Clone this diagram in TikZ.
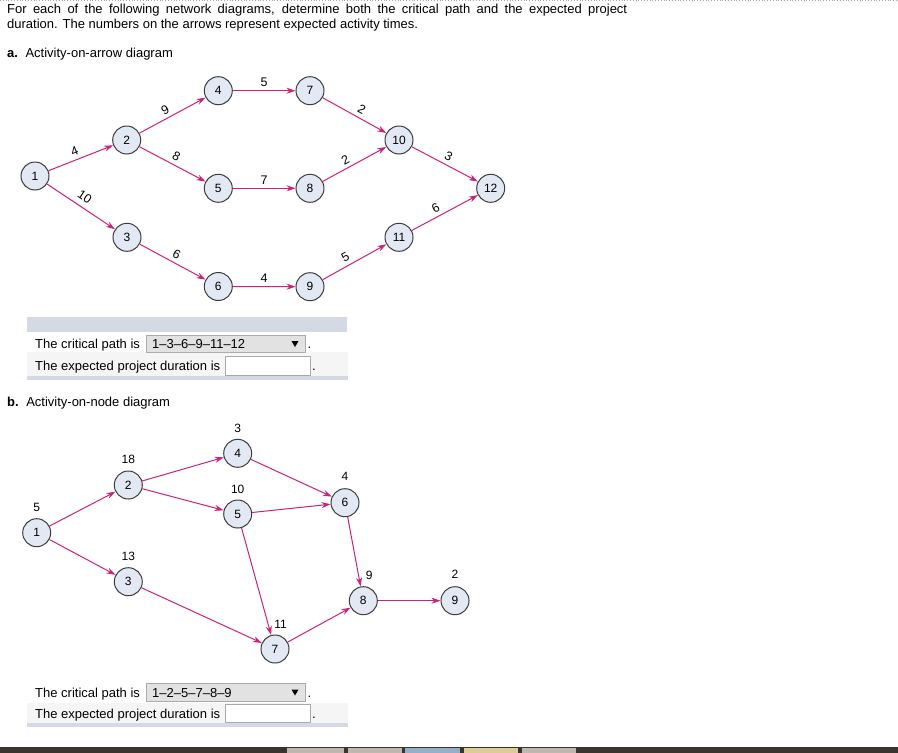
\documentclass[tikz,border=0pt]{standalone}
\usepackage{fontspec}
\setmainfont{Liberation Sans}
\usetikzlibrary{arrows.meta}
\definecolor{edgec}{RGB}{204,34,122}
\definecolor{nodefill}{RGB}{226,232,244}
\definecolor{nodeline}{RGB}{60,60,60}
\definecolor{barc}{RGB}{212,217,227}
\definecolor{rowc}{RGB}{245,245,245}
\definecolor{dropc}{RGB}{226,226,226}
\definecolor{boxline}{RGB}{170,170,170}
\definecolor{taskc}{RGB}{58,52,46}
\definecolor{btnc}{RGB}{190,184,176}
\definecolor{btnb}{RGB}{150,175,200}
\definecolor{btny}{RGB}{220,205,150}
\begin{document}
\begin{tikzpicture}[x=1pt,y=-1pt,
  circ/.style={circle,draw=nodeline,fill=nodefill,line width=1pt,minimum size=28pt,inner sep=0pt,font=\fontsize{12}{13}\selectfont},
  arr/.style={draw=edgec,line width=1pt,-{Stealth[length=9pt,width=6pt]}},
  elab/.style={font=\fontsize{12.5}{13}\selectfont,sloped,above,inner sep=3.5pt},
  nlab/.style={font=\fontsize{12}{13}\selectfont,inner sep=0pt},
  txt/.style={font=\fontsize{13}{15}\selectfont,inner sep=0pt,anchor=base west},
  dropbox/.style={draw=boxline,fill=dropc,line width=0.8pt},
  inbox/.style={draw=boxline,fill=white,line width=0.8pt}]
\useasboundingbox (0,0) rectangle (898,753);
\fill[white] (0,0) rectangle (898,753);
\draw[gray!70,dotted,line width=0.8pt] (0,0.5) -- (898,0.5);
% header text
\node[txt] (h1) at (7,13) {\makebox[620pt][s]{For each of the following network diagrams, determine both the critical path and the expected project}};
\node[txt] (h2) at (7,28) {duration. The numbers on the arrows represent expected activity times.};
\node[txt] (ha) at (7,57) {\textbf{a.}\hspace{7.5pt}Activity-on-arrow diagram};
% diagram a
\node[circ] (a1) at (35,176) {1};
\node[circ] (a2) at (126.7,140) {2};
\node[circ] (a3) at (127,237.3) {3};
\node[circ] (a4) at (218.3,90.7) {4};
\node[circ] (a5) at (218.3,188.3) {5};
\node[circ] (a6) at (218.3,286.5) {6};
\node[circ] (a7) at (310,90.7) {7};
\node[circ] (a8) at (310,188.3) {8};
\node[circ] (a9) at (310,286.7) {9};
\node[circ] (a10) at (399,140) {10};
\node[circ] (a11) at (399,237.3) {11};
\node[circ] (a12) at (490.7,188.3) {12};
\draw[arr] (a1) -- node[elab,pos=0.45] {4} (a2);
\draw[arr] (a1) -- node[elab,pos=0.47,inner sep=5.5pt] {10} (a3);
\draw[arr] (a2) -- node[elab,pos=0.45] {9} (a4);
\draw[arr] (a2) -- node[elab,pos=0.5] {8} (a5);
\draw[arr] (a3) -- node[elab,pos=0.5] {6} (a6);
\draw[arr] (a4) -- node[elab,pos=0.5] {5} (a7);
\draw[arr] (a5) -- node[elab,pos=0.5] {7} (a8);
\draw[arr] (a6) -- node[elab,pos=0.5] {4} (a9);
\draw[arr] (a7) -- node[elab,pos=0.55] {2} (a10);
\draw[arr] (a8) -- node[elab,pos=0.42] {2} (a10);
\draw[arr] (a10) -- node[elab,pos=0.5] {3} (a12);
\draw[arr] (a9) -- node[elab,pos=0.42] {5} (a11);
\draw[arr] (a11) -- node[elab,pos=0.42] {6} (a12);
% form a
\fill[barc] (27,317) rectangle (347,332);
\fill[rowc] (27,352) rectangle (348,376);
\fill[barc] (27,376) rectangle (348,380);
\node[txt] (ta1) at (35,348.5) {The critical path is};
\draw[dropbox] (146.7,335) rectangle (305.5,352);
\node[txt] (da) at (152,348.5) {1--3--6--9--11--12};
\fill (291.5,341) -- (298.5,341) -- (295,347) -- cycle;
\node[txt] (pa1) at (307.5,348.5) {.};
\node[txt] (ta2) at (35,370.5) {The expected project duration is};
\draw[inbox] (225.5,356) rectangle (310,375);
\node[txt] (pa2) at (312,370.5) {.};
% diagram b
\node[txt] (hb) at (7,406) {\textbf{b.}\hspace{7.5pt}Activity-on-node diagram};
\node[circ] (b1) at (36.7,532.7) {1};
\node[circ] (b2) at (128.3,485) {2};
\node[circ] (b3) at (128.3,581.7) {3};
\node[circ] (b4) at (237.7,453.3) {4};
\node[circ] (b5) at (237.7,514) {5};
\node[circ] (b6) at (345,502.7) {6};
\node[circ] (b7) at (275,649) {7};
\node[circ] (b8) at (363.3,600.7) {8};
\node[circ] (b9) at (455,600.7) {9};
\node[nlab] (l1) at (36.7,507.7) {5};
\node[nlab] (l2) at (128.3,459) {18};
\node[nlab] (l3) at (128.3,556) {13};
\node[nlab] (l4) at (237.7,428.7) {3};
\node[nlab] (l5) at (237.7,489.3) {10};
\node[nlab] (l6) at (345,476.7) {4};
\node[nlab] (l7) at (280.5,624.3) {11};
\node[nlab] (l8) at (369.3,575) {9};
\node[nlab] (l9) at (455,574) {2};
\draw[arr] (b1) -- (b2);
\draw[arr] (b1) -- (b3);
\draw[arr] (b2) -- (b4);
\draw[arr] (b2) -- (b5);
\draw[arr] (b4) -- (b6);
\draw[arr] (b5) -- (b6);
\draw[arr] (b5) -- (b7);
\draw[arr] (b3) -- (b7);
\draw[arr] (b6) -- (b8);
\draw[arr] (b7) -- (b8);
\draw[arr] (b8) -- (b9);
% form b
\fill[rowc] (27,703) rectangle (348,722.5);
\fill[barc] (27,722.5) rectangle (348,727);
\node[txt] (tb1) at (35,697) {The critical path is};
\draw[dropbox] (146.3,683.5) rectangle (305.5,701.5);
\node[txt] (db) at (152,697) {1--2--5--7--8--9};
\fill (291.5,689.5) -- (298.5,689.5) -- (295,695.5) -- cycle;
\node[txt] (pb1) at (307.5,697) {.};
\node[txt] (tb2) at (35,718.5) {The expected project duration is};
\draw[inbox] (225.5,704.5) rectangle (310,722);
\node[txt] (pb2) at (312,718.5) {.};
% bottom strip
\fill[taskc] (0,747) rectangle (898,753);
\fill[btnc] (287,748) rectangle (344,753);
\fill[btnc] (348,748) rectangle (402,753);
\fill[btnb] (405,748) rectangle (460,753);
\fill[btny] (464,748) rectangle (518,753);
\fill[btnc] (522,748) rectangle (576,753);
\end{tikzpicture}
\end{document}
